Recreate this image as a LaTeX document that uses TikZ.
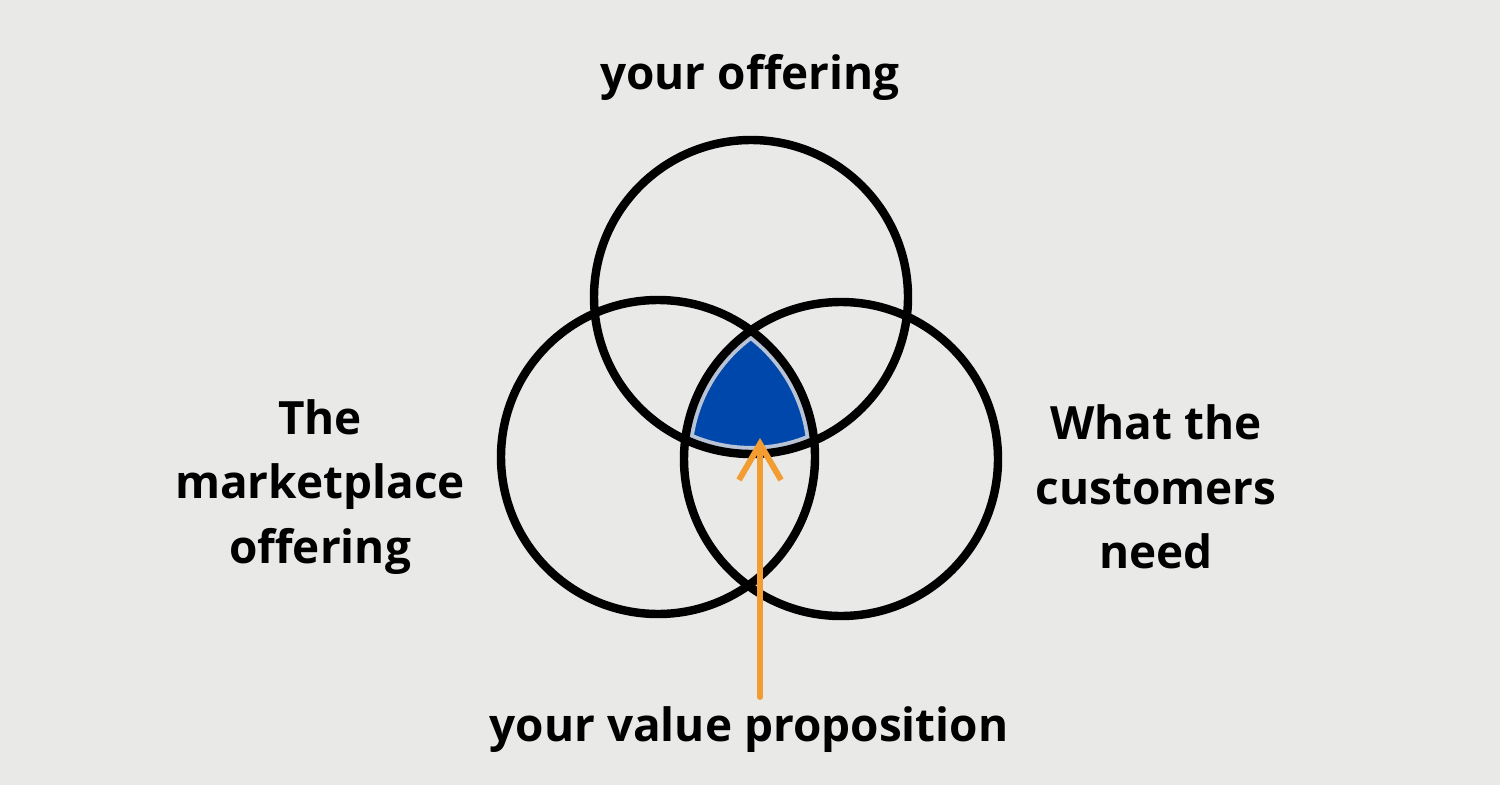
\documentclass[tikz,border=0pt]{standalone}
\usepackage{fontspec}
\setmainfont{Open Sans}
\usepackage{xcolor}
\usetikzlibrary{arrows.meta,positioning,calc}
\definecolor{bgcol}{HTML}{E9EAE8}
\definecolor{vpblue}{HTML}{0047AB}
\definecolor{vpedge}{HTML}{B9C3D6}
\definecolor{arrorange}{HTML}{F29C32}

\begin{document}
\begin{tikzpicture}[x=0.01cm,y=-0.01cm,
    label/.style={font=\fontsize{13.05}{18.3}\selectfont\bfseries, align=center, inner sep=0pt},
    ring/.style={line width=2.4pt, black}]
\fill[bgcol] (0,0) rectangle (1500,785);
\useasboundingbox (0,0) rectangle (1500,785);
\coordinate (cTop) at (751,297);
\coordinate (cLeft) at (658,457);
\coordinate (cRight) at (841,459);
% triple overlap
\begin{scope}
    \clip (cTop) circle (157);
    \clip (cLeft) circle (157);
    \clip (cRight) circle (157);
    \fill[vpblue] (600,250) rectangle (900,500);
    \foreach \C in {cTop,cLeft,cRight} {
        \draw[vpedge, line width=4.6pt] (\C) circle (157);
    }
\end{scope}
\foreach \C in {cTop,cLeft,cRight} {
    \draw[ring] (\C) circle (157);
}
\node[label] (offer) at (750,77) {your offering};
\node[label] (market) at (320,487) {The\\marketplace\\offering};
\node[label] (needs) at (1156,487) {What the\\customers\\need};
\node[label] (prop) at (749,730) {your value proposition};

\coordinate (tail) at (760,697);
\coordinate (tip) at (760,438);
\draw[arrorange, line width=1.7pt, line cap=round,
    -{Straight Barb[length=0.36cm, width=0.42cm, line width=1.7pt]}] (tail) -- (tip);
\end{tikzpicture}
\end{document}
